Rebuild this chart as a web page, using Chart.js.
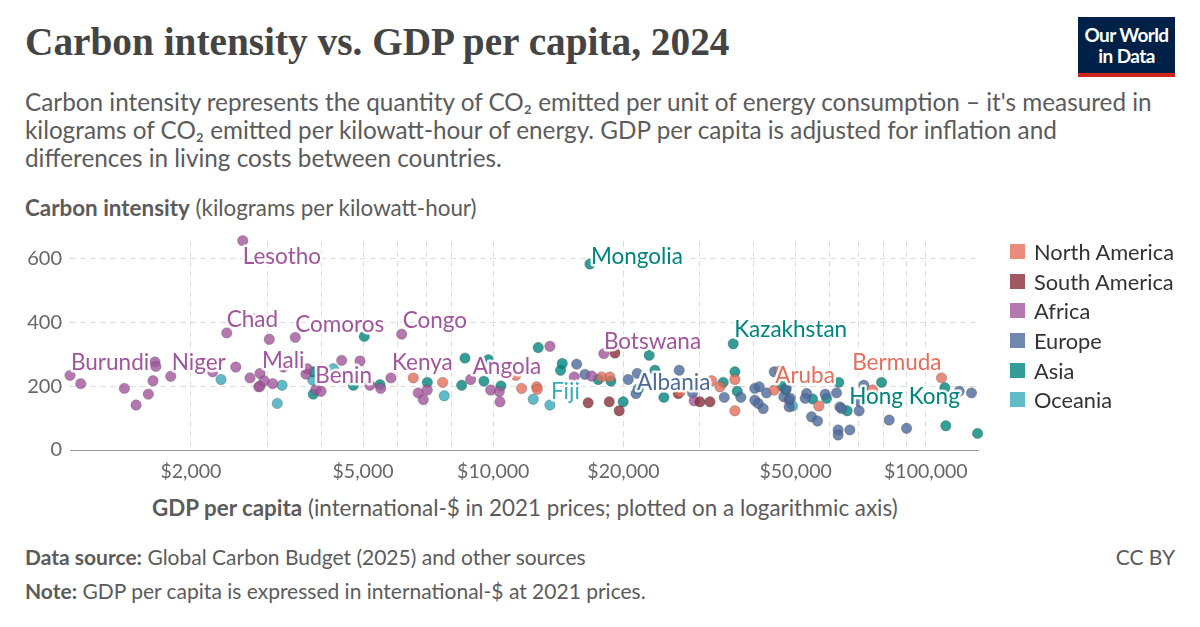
<!DOCTYPE html>
<html>
<head>
<meta charset="utf-8">
<script src="https://cdn.jsdelivr.net/npm/chart.js@4.4.1/dist/chart.umd.min.js"></script>
<style>
  body { margin: 0; width: 1200px; height: 627px; background: #fff; position: relative; overflow: hidden; font-family: Lato, sans-serif; }
  .t { position: absolute; white-space: nowrap; }
  #title { left: 25px; top: 20px; font-family: "Liberation Serif", serif; font-weight: 700; font-size: 39.3px; line-height: 44px; color: #444; }
  #subtitle { left: 25px; top: 88px; font-size: 24.3px; line-height: 28px; color: #5b5b5b; }
  #ytitle { left: 25px; top: 194px; font-size: 22.4px; line-height: 28px; color: #5b5b5b; }
  #xtitle { left: 152px; top: 494px; font-size: 22.4px; line-height: 28px; color: #5b5b5b; }
  #source { left: 25px; top: 543px; font-size: 21px; line-height: 28px; color: #5b5b5b; }
  #note { left: 25px; top: 577px; font-size: 21px; line-height: 28px; color: #5b5b5b; }
  #ccby { right: 25px; top: 543px; font-size: 21px; line-height: 28px; color: #5b5b5b; }
  #logo { position: absolute; left: 1078px; top: 17px; width: 97px; height: 60px; background: #002147; border-bottom: 4px solid #ce261e; box-sizing: border-box; color: #fff; font-weight: 700; font-size: 19px; line-height: 21px; text-align: center; padding-top: 7px; letter-spacing: -0.6px; }
  #legend { position: absolute; left: 1010px; top: 237px; }
  .li { height: 29.6px; display: flex; align-items: center; font-size: 21.8px; color: #333; }
  .sw { width: 15px; height: 15px; margin-right: 9px; }
  canvas { position: absolute; left: 0; top: 0; }
</style>
</head>
<body>
<div id="title" class="t">Carbon intensity vs. GDP per capita, 2024</div>
<div id="subtitle" class="t">Carbon intensity represents the quantity of CO₂ emitted per unit of energy consumption – it's measured in<br>kilograms of CO₂ emitted per kilowatt-hour of energy. GDP per capita is adjusted for inflation and<br>differences in living costs between countries.</div>
<div id="ytitle" class="t"><b>Carbon intensity</b> (kilograms per kilowatt-hour)</div>
<div id="xtitle" class="t"><b>GDP per capita</b> (international-$ in 2021 prices; plotted on a logarithmic axis)</div>
<div id="source" class="t"><b>Data source:</b> Global Carbon Budget (2025) and other sources</div>
<div id="note" class="t"><b>Note:</b> GDP per capita is expressed in international-$ at 2021 prices.</div>
<div id="ccby" class="t">CC BY</div>
<div id="logo">Our World<br>in Data</div>
<canvas id="chart" width="1200" height="627"></canvas>
<div id="legend"></div>
<script>
// --- data (GDP per capita, carbon intensity) ---
var regions = ['North America', 'South America', 'Africa', 'Europe', 'Asia', 'Oceania'];
var regionColors = ['#E56E5A', '#883039', '#A2559C', '#4C6A9C', '#00847E', '#38AABA'];

var northAmericaGdp = [2814, 6533, 7640, 11270, 11630, 12600, 12640, 17800, 18600, 27010, 31970, 33420, 36190, 36190, 44610, 45990, 56570, 75300, 108700];
var northAmericaVal = [410, 226, 212, 234, 193, 198, 190, 229, 229, 182, 217, 198, 221, 123, 188, 248, 138, 188, 226];

var southAmericaGdp = [16570, 18540, 19110, 19550, 26770, 30050, 31690];
var southAmericaVal = [148, 151, 304, 123, 177, 151, 151];

var africaGdp = [1051, 1113, 1404, 1494, 1595, 1635, 1652, 1660, 1797, 2246, 2421, 2540, 2636, 2740, 2870, 2890, 2890, 2952, 3036, 3091, 3272, 3486, 3690, 3716, 3892, 3998, 4463, 4920, 5188, 5494, 5802, 6141, 6709, 6890, 7039, 8867, 9862, 10325, 10363, 13520, 15390, 16880, 18020, 29140];
var africaVal = [234, 208, 193, 141, 175, 217, 276, 262, 231, 245, 367, 260, 656, 226, 198, 200, 240, 217, 347, 208, 260, 353, 238, 255, 190, 184, 281, 279, 203, 193, 226, 363, 179, 158, 188, 221, 188, 183, 151, 325, 229, 232, 302, 154];

var europeGdp = [15590, 16290, 20510, 21380, 21520, 26910, 28890, 34200, 37360, 40240, 40240, 41190, 40970, 42070, 42830, 44610, 46960, 47570, 48310, 48310, 48610, 53010, 52600, 54420, 56180, 58530, 62170, 62700, 62700, 63270, 63840, 66730, 70110, 70350, 71900, 82270, 90250, 119400, 127500];
var europeVal = [269, 237, 221, 177, 240, 250, 179, 165, 165, 193, 156, 198, 146, 130, 179, 245, 167, 193, 156, 135, 162, 177, 162, 104, 91, 175, 179, 63, 47, 135, 130, 63, 123, 151, 203, 94, 68, 184, 179];

var asiaGdp = [3837, 3837, 4748, 5033, 5473, 7039, 8453, 8603, 9517, 9737, 10418, 12705, 14310, 14435, 16730, 17480, 18710, 19970, 21630, 22940, 23650, 24800, 34010, 35870, 36190, 36640, 46400, 47400, 54720, 58950, 62940, 65790, 79000, 110650, 111240, 131700];
var asiaVal = [245, 175, 203, 356, 205, 212, 203, 288, 216, 283, 201, 321, 250, 271, 583, 221, 216, 151, 191, 297, 250, 165, 212, 333, 245, 184, 201, 188, 160, 162, 212, 123, 212, 195, 76, 52];

var oceaniaGdp = [2348, 3168, 3249, 3826, 4268, 7705, 12372, 13520, 49190];
var oceaniaVal = [221, 146, 203, 219, 255, 170, 159, 141, 138];

var seriesGdp = [northAmericaGdp, southAmericaGdp, africaGdp, europeGdp, asiaGdp, oceaniaGdp];
var seriesVal = [northAmericaVal, southAmericaVal, africaVal, europeVal, asiaVal, oceaniaVal];

// labelled countries: name, region index, gdp, value
var labelNames = ['Lesotho', 'Chad', 'Comoros', 'Congo', 'Burundi', 'Niger', 'Mali', 'Benin', 'Kenya', 'Angola', 'Botswana', 'Mongolia', 'Kazakhstan', 'Hong Kong', 'Fiji', 'Albania', 'Aruba', 'Bermuda'];
var labelRegion = [2, 2, 2, 2, 2, 2, 2, 2, 2, 2, 2, 4, 4, 4, 5, 3, 0, 0];
var labelGdp = [2636, 2421, 3486, 6141, 1051, 1797, 2890, 3716, 5802, 8867, 18020, 16730, 35870, 65790, 13520, 21380, 44610, 108700];
var labelVal = [656, 367, 353, 363, 234, 231, 240, 255, 226, 221, 302, 583, 333, 123, 141, 177, 188, 226];

// axis ticks
var xGridValues = [2000, 3000, 4000, 5000, 6000, 7000, 8000, 10000, 20000, 30000, 40000, 50000, 60000, 70000, 80000, 90000, 100000];
var xTickValues = [2000, 5000, 10000, 20000, 50000, 100000];
var xTickLabels = ['$2,000', '$5,000', '$10,000', '$20,000', '$50,000', '$100,000'];
var yTickValues = [0, 200, 400, 600];

// label placement (pixel offsets from the point)
var labelLayout = [
    [0, 16, 'left'], [0, -13, 'left'], [0, -13, 'left'], [1, -13, 'left'], [1, -13, 'left'],
    [1, -14, 'left'], [2, -13, 'left'], [8, 7, 'left'], [1, -15, 'left'], [2, -13, 'left'],
    [0, -12, 'left'], [1, -7, 'left'], [1, -14, 'left'], [2, -14, 'left'], [1, -13, 'left'],
    [1, -11, 'left'], [1, -14, 'left'], [0, -15, 'right']
];

function alpha(hex, a) {
    var n = parseInt(hex.slice(1), 16);
    return 'rgba(' + (n >> 16) + ',' + ((n >> 8) & 255) + ',' + (n & 255) + ',' + a + ')';
}

// legend (html)
var legendEl = document.getElementById('legend');
regions.forEach(function (name, i) {
    var row = document.createElement('div');
    row.className = 'li';
    row.innerHTML = '<span class="sw" style="background:' + alpha(regionColors[i], 0.8) + '"></span>' + name;
    legendEl.appendChild(row);
});

var datasets = regions.map(function (name, i) {
    return {
        label: name,
        data: seriesGdp[i].map(function (g, j) { return { x: g, y: seriesVal[i][j] }; }),
        backgroundColor: alpha(regionColors[i], 0.8),
        borderColor: 'rgba(70,70,70,0.45)',
        borderWidth: 0.7,
        pointRadius: 5.2,
        clip: false
    };
});

var pointLabels = {
    id: 'pointLabels',
    afterDatasetsDraw: function (chart) {
        var c = chart.ctx;
        c.save();
        c.font = '22.5px Lato';
        c.textBaseline = 'middle';
        c.lineJoin = 'round';
        labelNames.forEach(function (name, i) {
            var x = chart.scales.x.getPixelForValue(labelGdp[i]) + labelLayout[i][0];
            var y = chart.scales.y.getPixelForValue(labelVal[i]) + labelLayout[i][1];
            c.textAlign = labelLayout[i][2];
            c.strokeStyle = 'rgba(255,255,255,0.9)';
            c.lineWidth = 5;
            c.strokeText(name, x, y);
            c.fillStyle = regionColors[labelRegion[i]];
            c.fillText(name, x, y);
        });
        c.restore();
    }
};

new Chart(document.getElementById('chart').getContext('2d'), {
    type: 'scatter',
    data: { datasets: datasets },
    options: {
        responsive: false,
        animation: false,
        devicePixelRatio: 1,
        layout: { padding: { left: 0, top: 241, right: 222, bottom: 0 } },
        plugins: { legend: { display: false }, tooltip: { enabled: false } },
        scales: {
            x: {
                type: 'logarithmic',
                min: 1051,
                max: 132000,
                afterBuildTicks: function (s) { s.ticks = xGridValues.map(function (v) { return { value: v }; }); },
                afterFit: function (s) { s.height = 177; },
                ticks: {
                    autoSkip: false, maxRotation: 0, padding: 10, color: '#666',
                    font: { family: 'Lato', size: 19.5 },
                    callback: function (v) {
                        var k = xTickValues.indexOf(v);
                        return k < 0 ? '' : xTickLabels[k];
                    }
                },
                grid: { color: '#ddd', drawTicks: false },
                border: { display: true, color: '#999', width: 1, dash: [6, 4] }
            },
            y: {
                min: 0,
                max: 655,
                afterBuildTicks: function (s) { s.ticks = yTickValues.map(function (v) { return { value: v }; }); },
                afterFit: function (s) { s.width = 70; },
                ticks: { padding: 8, color: '#666', font: { family: 'Lato', size: 20 } },
                grid: {
                    color: function (c) { return c.tick && c.tick.value === 0 ? 'rgba(0,0,0,0)' : '#ddd'; },
                    drawTicks: false
                },
                border: { display: false, dash: [6, 4] }
            }
        }
    },
    plugins: [pointLabels]
});
</script>
</body>
</html>
